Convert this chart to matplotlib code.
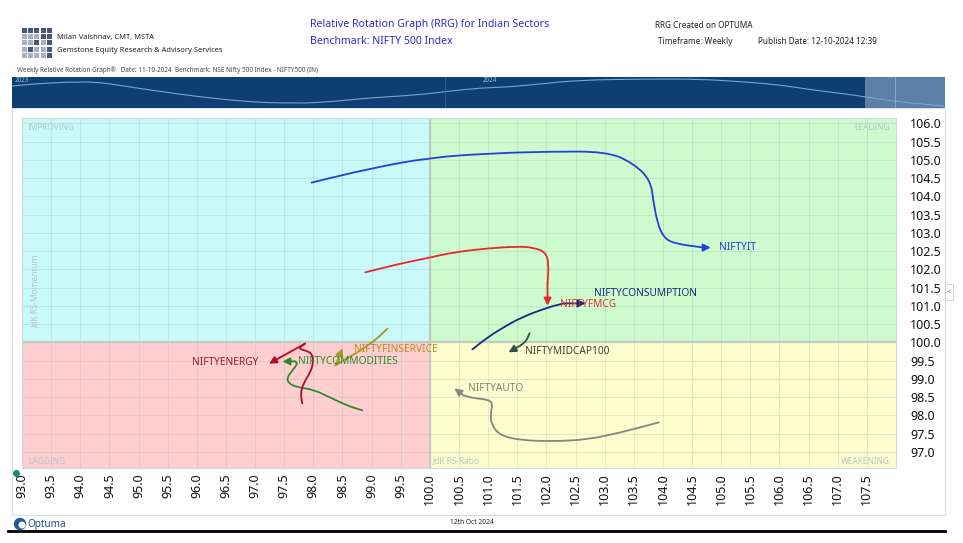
import matplotlib
matplotlib.use("Agg")
import matplotlib.pyplot as plt
import matplotlib.patches as mpatches
from matplotlib.path import Path
import numpy as np

plt.rcParams['font.family'] = ['Noto Sans', 'DejaVu Sans']

# --- trails (JdK RS-Ratio, JdK RS-Momentum), last point = head ---
it_x = [97.97, 98.98, 100.01, 101.04, 102.02, 103.05, 103.50, 103.79, 103.84, 103.91, 104.01, 104.19, 104.70, 104.82]
it_y = [104.38, 104.77, 105.07, 105.18, 105.23, 105.23, 104.90, 104.44, 103.81, 103.26, 102.88, 102.71, 102.60, 102.60]

fmcg_x = [98.89, 99.49, 100.01, 100.41, 100.99, 101.51, 101.78, 101.99, 102.04, 102.02, 102.02]
fmcg_y = [101.92, 102.16, 102.33, 102.47, 102.58, 102.63, 102.60, 102.47, 102.16, 101.62, 101.01]

cons_x = [100.73, 100.99, 101.26, 101.56, 102.02, 102.30, 102.67]
cons_y = [99.81, 100.14, 100.41, 100.68, 100.96, 101.07, 101.07]

midcap_x = [101.71, 101.66, 101.56, 101.35]
midcap_y = [100.25, 100.05, 99.92, 99.73]

auto_x = [103.93, 103.27, 102.71, 102.12, 101.56, 101.21, 101.06, 101.04, 101.08, 100.99, 100.75, 100.58, 100.42]
auto_y = [97.81, 97.53, 97.34, 97.29, 97.32, 97.45, 97.73, 98.05, 98.33, 98.44, 98.47, 98.55, 98.74]

fin_x = [99.27, 99.10, 98.81, 98.52, 98.38, 98.50]
fin_y = [100.38, 100.11, 99.78, 99.51, 99.37, 99.84]

comm_x = [98.84, 98.58, 98.29, 98.00, 97.73, 97.57, 97.55, 97.64, 97.73, 97.69, 97.47]
comm_y = [98.14, 98.27, 98.49, 98.71, 98.77, 98.88, 99.04, 99.23, 99.42, 99.48, 99.48]

energy_x = [97.81, 97.78, 97.83, 97.95, 98.00, 97.98, 97.86, 97.74, 97.86, 97.24]
energy_y = [98.33, 98.60, 98.88, 99.18, 99.45, 99.70, 99.78, 99.84, 99.97, 99.42]

names = ['NIFTYIT', 'NIFTYFMCG', 'NIFTYCONSUMPTION', 'NIFTYMIDCAP100',
         'NIFTYAUTO', 'NIFTYFINSERVICE', 'NIFTYCOMMODITIES', 'NIFTYENERGY']
trails_x = [it_x, fmcg_x, cons_x, midcap_x, auto_x, fin_x, comm_x, energy_x]
trails_y = [it_y, fmcg_y, cons_y, midcap_y, auto_y, fin_y, comm_y, energy_y]
line_colors = ['#2340d8', '#e8282a', '#1a2a80', '#2f4f4f', '#858585', '#a89a20', '#2e8a2e', '#a8102a']
label_colors = ['#1e40d0', '#e83030', '#1a2a80', '#404040', '#808080', '#c08a20', '#2e8b2e', '#a01828']
# label anchor (x, y, ha)
label_pos = [(104.96, 102.60, 'left'), (102.23, 101.04, 'left'), (102.81, 101.34, 'left'),
             (101.63, 99.75, 'left'), (100.66, 98.74, 'left'), (98.69, 99.81, 'left'),
             (97.73, 99.48, 'left'), (97.05, 99.45, 'right')]

x_ticks = np.arange(93.0, 107.6, 0.5)
y_ticks = np.arange(97.0, 106.1, 0.5)

# timeline strip (relative position, level)
tl_pos = [0.0, 0.023, 0.059, 0.091, 0.113, 0.148, 0.202, 0.255, 0.291, 0.327, 0.381, 0.434,
          0.470, 0.502, 0.531, 0.566, 0.609, 0.681, 0.734, 0.788, 0.823, 0.859, 0.902, 0.950, 1.0]
tl_val = [22, 24, 26, 26, 23, 18, 11, 6, 5, 5, 10, 13, 17, 20, 21, 24, 28, 29, 29, 26, 23, 18, 13, 6, 2]

W, H = 963, 543
fig = plt.figure(figsize=(9.63, 5.43), dpi=100)


def box(x0, y0, x1, y1):
    return [x0 / W, 1 - y1 / H, (x1 - x0) / W, (y1 - y0) / H]


def smooth_path(xs, ys):
    # quadratic curves through segment midpoints, just to round the corners
    pts = list(zip(xs, ys))
    if len(pts) < 3:
        return Path(pts)
    verts = [pts[0]]
    codes = [Path.MOVETO]
    verts.append(((pts[0][0] + pts[1][0]) / 2, (pts[0][1] + pts[1][1]) / 2))
    codes.append(Path.LINETO)
    for i in range(1, len(pts) - 1):
        mid = ((pts[i][0] + pts[i + 1][0]) / 2, (pts[i][1] + pts[i + 1][1]) / 2)
        verts += [pts[i], mid]
        codes += [Path.CURVE3, Path.CURVE3]
    verts.append(pts[-1])
    codes.append(Path.LINETO)
    return Path(verts, codes)


# overlay in pixel coords for header / footer decorations
bg = fig.add_axes([0, 0, 1, 1])
bg.set_xlim(0, W)
bg.set_ylim(H, 0)
bg.axis('off')

# logo grid
logo = ['DDDDD', 'LLLDD', 'LLDLD', 'LDLLD', 'LLLLD']
for r, row in enumerate(logo):
    for c, ch in enumerate(row):
        col = '#4a5878' if ch == 'D' else '#aab0c4'
        bg.add_patch(mpatches.Rectangle((22 + c * 6.2, 28 + r * 6.2), 5, 5, color=col, lw=0))
bg.text(57, 38, 'Milan Vaishnav, CMT, MSTA', fontsize=5.4, va='center', color='#222222')
bg.text(57, 50, 'Gemstone Equity Research & Advisory Services', fontsize=5.4, va='center', color='#222222')
bg.text(310, 25, 'Relative Rotation Graph (RRG) for Indian Sectors', fontsize=7.6, va='center', color='#2a2ad0')
bg.text(310, 41, 'Benchmark: NIFTY 500 Index', fontsize=7.6, va='center', color='#2a2ad0')
bg.text(655, 25, 'RRG Created on OPTUMA', fontsize=5.9, va='center', color='#222222')
bg.text(658, 41, 'Timeframe: Weekly', fontsize=5.9, va='center', color='#222222')
bg.text(758, 41, 'Publish Date: 12-10-2024 12:39', fontsize=5.9, va='center', color='#222222')
bg.text(17, 70, 'Weekly Relative Rotation Graph\u00ae   Date: 11-10-2024  Benchmark: NSE Nifty 500 Index - NIFTY500 (IN)',
        fontsize=4.6, va='center', color='#444444')

# chart panel border
bg.add_patch(mpatches.Rectangle((12, 108), 933, 407, fill=False, ec='#dddddd', lw=0.8))
bg.add_patch(mpatches.Rectangle((945, 284), 8, 16, fc='white', ec='#cccccc', lw=0.6))
bg.text(949, 292, '<', fontsize=5, ha='center', va='center', color='#666666')
bg.plot([16], [473], 'o', ms=4, color='#1a8a70')

# footer
bg.add_patch(mpatches.Circle((20, 524), 5.5, color='#1f5aa0'))
bg.add_patch(mpatches.Circle((22, 525), 2.8, color='white'))
bg.text(27, 524, 'Optuma', fontsize=7.2, va='center', color='#1f4f8f', fontweight='bold')
bg.text(472, 523, '12th Oct 2024', fontsize=4.8, ha='center', va='center', color='#222222')
bg.plot([8, 945], [531, 531], color='black', lw=2)

# timeline strip
tl = fig.add_axes(box(12, 77, 945, 108))
tl.set_facecolor('#0d3f75')
tl.set_xlim(0, 1)
tl.set_ylim(0, 31)
tl.axvspan(0.9143, 1, color='#5c80a8', lw=0)
tl.add_patch(mpatches.PathPatch(smooth_path(tl_pos, tl_val), fill=False, ec='#7fa2cc', lw=0.8))
tl.axvline(0.464, color='#3a6496', lw=0.6)
tl.axvline(0.9465, color='#a0b8d0', lw=0.5)
tl.text(0.003, 27, '2023', fontsize=4.5, color='#9fb8d8', va='center')
tl.text(0.505, 27, '2024', fontsize=4.5, color='#9fb8d8', va='center')
tl.set_xticks([])
tl.set_yticks([])
for s in tl.spines.values():
    s.set_visible(False)

# main RRG
ax = fig.add_axes(box(22, 118, 896, 468))
x0, x1 = 93.0, 108.0
y0, y1 = 96.56, 106.15
ax.set_xlim(x0, x1)
ax.set_ylim(y0, y1)
ax.add_patch(mpatches.Rectangle((x0, 100), 100 - x0, y1 - 100, color='#c9f9f9', lw=0, zorder=0))
ax.add_patch(mpatches.Rectangle((100, 100), x1 - 100, y1 - 100, color='#cdfbcd', lw=0, zorder=0))
ax.add_patch(mpatches.Rectangle((x0, y0), 100 - x0, 100 - y0, color='#ffcfcf', lw=0, zorder=0))
ax.add_patch(mpatches.Rectangle((100, y0), x1 - 100, 100 - y0, color='#fefdcd', lw=0, zorder=0))
ax.set_xticks(x_ticks)
ax.set_yticks(y_ticks)
ax.set_xticklabels(['%.1f' % v for v in x_ticks], rotation=90)
ax.set_yticklabels(['%.1f' % v for v in y_ticks])
ax.tick_params(length=0, labelsize=9, colors='#111111', pad=4)
ax.tick_params(axis='y', labelleft=False, labelright=True, pad=10)
ax.grid(True, color='#8fa8a8', alpha=0.22, lw=0.8)
ax.set_axisbelow(True)
ax.axvline(100, color='#c0ccc0', lw=1.6, zorder=1)
ax.axhline(100, color='#c0ccc0', lw=1.6, zorder=1)
for s in ax.spines.values():
    s.set_color('#c8dcdc')
    s.set_linewidth(0.8)

qc = '#b8c8c8'
ax.text(93.1, 105.9, 'IMPROVING', fontsize=6, color=qc, va='center')
ax.text(107.9, 105.9, 'LEADING', fontsize=6, color=qc, va='center', ha='right')
ax.text(93.1, 96.75, 'LAGGING', fontsize=6, color=qc, va='center')
ax.text(107.9, 96.75, 'WEAKENING', fontsize=6, color=qc, va='center', ha='right')
ax.text(100.05, 96.75, 'JdK RS-Ratio', fontsize=6, color=qc, va='center')
ax.text(93.22, 101.4, 'JdK RS-Momentum', fontsize=6, color=qc, va='center', ha='center', rotation=90)

for name, tx, ty, lc, tc, (lx, ly, ha) in zip(names, trails_x, trails_y, line_colors, label_colors, label_pos):
    ax.add_patch(mpatches.PathPatch(smooth_path(tx[:-1], ty[:-1]), fill=False, ec=lc, lw=1.3,
                                    capstyle='round', joinstyle='round', zorder=3))
    ax.annotate('', xy=(tx[-1], ty[-1]), xytext=(tx[-2], ty[-2]),
                arrowprops=dict(arrowstyle='-|>', color=lc, lw=1.3, mutation_scale=11,
                                shrinkA=0, shrinkB=0), zorder=4)
    ax.text(lx, ly, name, fontsize=7.3, color=tc, ha=ha, va='center', zorder=5)

fig.savefig('out.png', dpi=100)
